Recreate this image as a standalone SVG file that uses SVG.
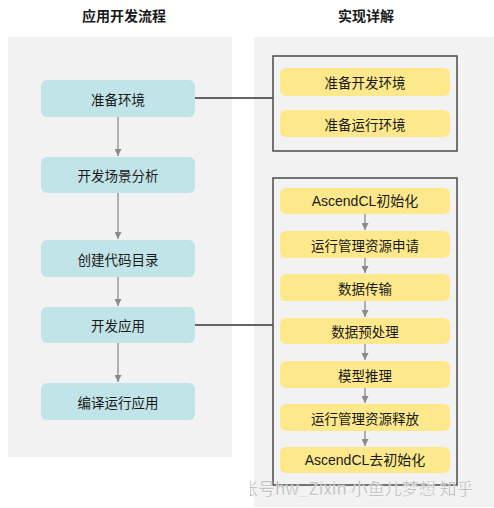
<svg xmlns="http://www.w3.org/2000/svg" width="494" height="508" viewBox="0 0 494 508">
<style>
text{font-family:"Noto Sans CJK SC","Noto Sans",sans-serif;text-anchor:middle;dominant-baseline:central;fill:#1a1a1a}
.title{font-size:14px;font-weight:bold}
.panel{fill:#f2f2f2}
.step rect{fill:#c1e4e8}
.step text{font-size:13.5px}
.item rect{fill:#fde98c}
.item text{font-size:13.5px}
.item text.lat{font-family:"Liberation Sans","Noto Sans CJK SC",sans-serif;font-size:14px}
.frame{fill:none;stroke:#4a4a4a;stroke-width:1.5}
.arrow{stroke:#8a8a8a;stroke-width:1.3;fill:none;marker-end:url(#ah)}
.link{stroke:#333;stroke-width:1.3;fill:none}
.wm{font-size:17px;fill:#aaaaaa;text-anchor:start;stroke:#fff;stroke-width:0.4}
</style>
<defs>
<marker id="ah" viewBox="0 0 10 10" refX="10" refY="5" markerWidth="7" markerHeight="7" markerUnits="userSpaceOnUse" orient="auto">
<path d="M0,0 L10,5 L0,10 z" fill="#8a8a8a"/>
</marker>
<clipPath id="wmclip"><rect x="250" y="470" width="230" height="38"/></clipPath>
</defs>
<rect width="494" height="508" fill="#ffffff"/>
<text class="title" x="124" y="15">应用开发流程</text>
<text class="title" x="366" y="15">实现详解</text>
<rect class="panel" x="8" y="37" width="224" height="420"/>
<rect class="panel" x="254" y="37" width="240" height="470"/>

<g id="connectors">
<path class="arrow" d="M118,117 V156"/>
<path class="arrow" d="M118,193 V239"/>
<path class="arrow" d="M118,277 V306"/>
<path class="arrow" d="M118,343 V382"/>
<path class="link" d="M195,98 H273"/>
<path class="link" d="M195,325 H273"/>
<path class="arrow" d="M365,214 V230"/>
<path class="arrow" d="M365,258 V273"/>
<path class="arrow" d="M365,301 V317"/>
<path class="arrow" d="M365,344 V360"/>
<path class="arrow" d="M365,388 V403"/>
<path class="arrow" d="M365,431 V446"/>
</g>

<g id="env-frame"><rect class="frame" x="273" y="56" width="184" height="95"/></g>
<g id="app-frame"><rect class="frame" x="273" y="178" width="184" height="307"/></g>

<g id="n1" class="step"><rect x="41" y="80" width="154" height="37" rx="6"/><text x="118" y="98.5">准备环境</text></g>
<g id="n2" class="step"><rect x="41" y="157" width="154" height="36" rx="6"/><text x="118" y="175">开发场景分析</text></g>
<g id="n3" class="step"><rect x="41" y="240" width="154" height="37" rx="6"/><text x="118" y="258.5">创建代码目录</text></g>
<g id="n4" class="step"><rect x="41" y="307" width="154" height="36" rx="6"/><text x="118" y="325">开发应用</text></g>
<g id="n5" class="step"><rect x="41" y="383" width="154" height="37" rx="6"/><text x="118" y="401.5">编译运行应用</text></g>

<g id="e1" class="item"><rect x="280" y="68" width="170" height="28" rx="6"/><text x="365" y="82">准备开发环境</text></g>
<g id="e2" class="item"><rect x="280" y="110" width="170" height="27" rx="6"/><text x="365" y="123.5">准备运行环境</text></g>

<g id="a1" class="item"><rect x="280" y="188" width="170" height="26" rx="6"/><text class="lat" x="365" y="201">AscendCL初始化</text></g>
<g id="a2" class="item"><rect x="280" y="231" width="170" height="27" rx="6"/><text x="365" y="244.5">运行管理资源申请</text></g>
<g id="a3" class="item"><rect x="280" y="274" width="170" height="27" rx="6"/><text x="365" y="287.5">数据传输</text></g>
<g id="a4" class="item"><rect x="280" y="318" width="170" height="26" rx="6"/><text x="365" y="331">数据预处理</text></g>
<g id="a5" class="item"><rect x="280" y="361" width="170" height="27" rx="6"/><text x="365" y="374.5">模型推理</text></g>
<g id="a6" class="item"><rect x="280" y="404" width="170" height="27" rx="6"/><text x="365" y="417.5">运行管理资源释放</text></g>
<g id="a7" class="item"><rect x="280" y="447" width="170" height="26" rx="6"/><text class="lat" x="365" y="460">AscendCL去初始化</text></g>

<text class="wm" x="241" y="487" clip-path="url(#wmclip)">账号hw_Zixin 小鱼儿梦想 知乎</text>
</svg>
